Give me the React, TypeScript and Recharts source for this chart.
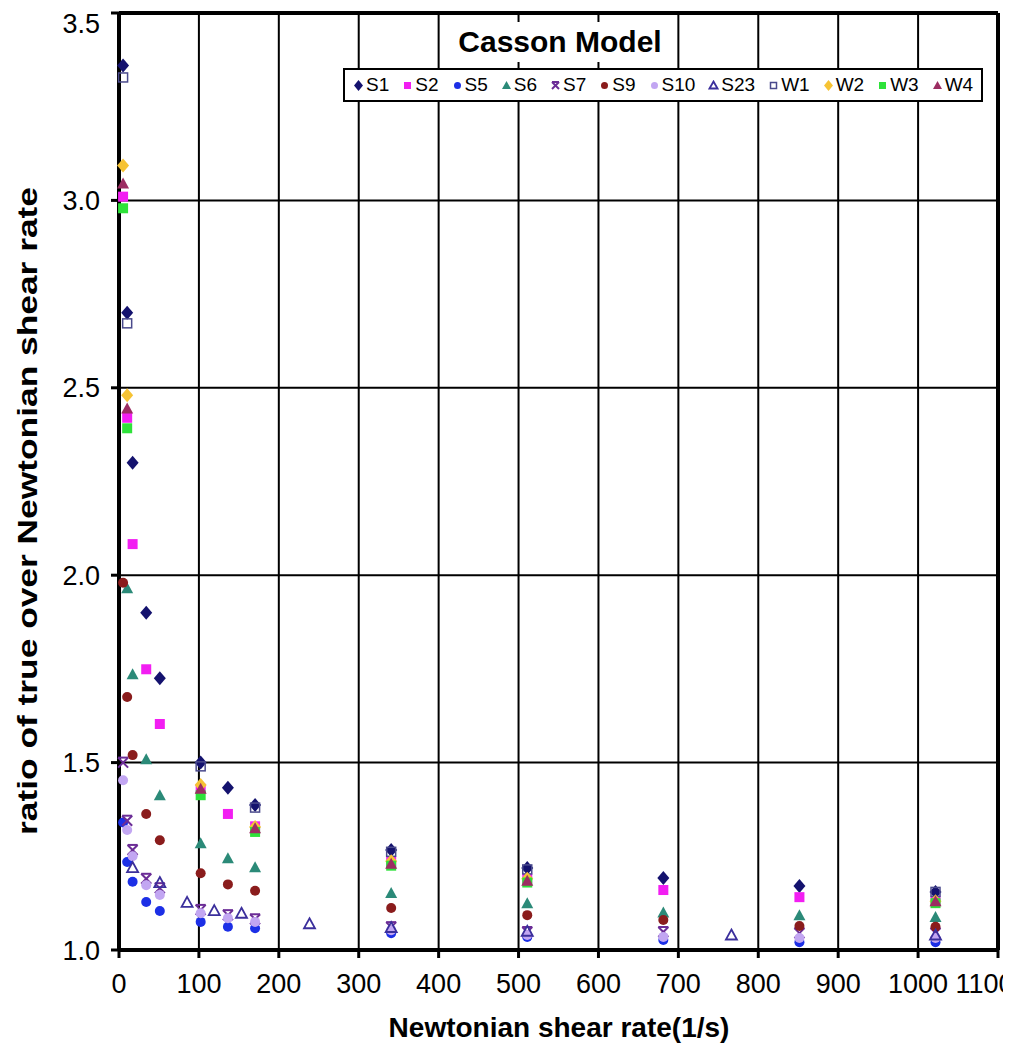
import { ScatterChart, Scatter, XAxis, YAxis, CartesianGrid, ReferenceLine, Legend, Label } from "recharts";

// shear rates (1/s) from the viscometer speeds
const sRates = [5.11, 10.22, 17.03, 34.06, 51.09, 102.2, 136.3, 170.3, 340.6, 510.9, 681.2, 851.5, 1021.8];
const s6Rates = [10.22, 17.03, 34.06, 51.09, 102.2, 136.3, 170.3, 340.6, 510.9, 681.2, 851.5, 1021.8];
const s23Rates = [17.03, 51.09, 85.2, 119.2, 153.3, 238.4, 340.6, 510.9, 766.4, 1021.8];
const wRates = [5.11, 10.22, 102.2, 170.3, 340.6, 510.9, 1021.8];

// ratio of true over Newtonian shear rate
const s1 = [3.36, 2.7, 2.3, 1.9, 1.725, 1.5, 1.433, 1.387, 1.267, 1.219, 1.192, 1.171, 1.155];
const s2 = [3.01, 2.42, 2.083, 1.749, 1.603, 1.43, 1.363, 1.33, 1.235, 1.19, 1.16, 1.141, 1.13];
const s5 = [1.34, 1.235, 1.182, 1.128, 1.104, 1.075, 1.062, 1.058, 1.045, 1.035, 1.027, 1.021, 1.021];
const s6 = [1.965, 1.736, 1.509, 1.413, 1.285, 1.245, 1.221, 1.152, 1.125, 1.1, 1.093, 1.088];
const s7 = [1.5, 1.345, 1.267, 1.19, 1.165, 1.107, 1.093, 1.082, 1.061, 1.048, 1.048, 1.045, 1.045];
const s9 = [1.98, 1.675, 1.52, 1.363, 1.293, 1.205, 1.175, 1.158, 1.112, 1.093, 1.08, 1.064, 1.062];
const s10 = [1.453, 1.32, 1.25, 1.173, 1.147, 1.098, 1.085, 1.075, 1.053, 1.04, 1.035, 1.032, 1.032];
const s23 = [1.22, 1.18, 1.127, 1.105, 1.098, 1.07, 1.06, 1.05, 1.04, 1.04];
const w1 = [3.328, 2.672, 1.49, 1.38, 1.262, 1.215, 1.155];
const w2 = [3.093, 2.48, 1.44, 1.328, 1.237, 1.19, 1.13];
const w3 = [2.979, 2.392, 1.413, 1.315, 1.225, 1.18, 1.125];
const w4 = [3.045, 2.445, 1.43, 1.325, 1.23, 1.185, 1.13];

const xTicks = [0, 100, 200, 300, 400, 500, 600, 700, 800, 900, 1000, 1100];
const yTicks = [1.0, 1.5, 2.0, 2.5, 3.0, 3.5];

type Kind = "diamond" | "square" | "circle" | "triangle" | "star" | "openTriangle" | "openSquare";

const series: { name: string; xs: number[]; ys: number[]; kind: Kind; color: string }[] = [
  { name: "S1", xs: sRates, ys: s1, kind: "diamond", color: "#14126e" },
  { name: "S2", xs: sRates, ys: s2, kind: "square", color: "#f21ef2" },
  { name: "S5", xs: sRates, ys: s5, kind: "circle", color: "#1c2fe6" },
  { name: "S6", xs: s6Rates, ys: s6, kind: "triangle", color: "#2b8a78" },
  { name: "S7", xs: sRates, ys: s7, kind: "star", color: "#6b2c96" },
  { name: "S9", xs: sRates, ys: s9, kind: "circle", color: "#8a1c1c" },
  { name: "S10", xs: sRates, ys: s10, kind: "circle", color: "#c2a6f2" },
  { name: "S23", xs: s23Rates, ys: s23, kind: "openTriangle", color: "#3b2f9c" },
  { name: "W1", xs: wRates, ys: w1, kind: "openSquare", color: "#4a4a8c" },
  { name: "W2", xs: wRates, ys: w2, kind: "diamond", color: "#f6c334" },
  { name: "W3", xs: wRates, ys: w3, kind: "square", color: "#2ee23a" },
  { name: "W4", xs: wRates, ys: w4, kind: "triangle", color: "#9c2d62" },
];

const FONT = "'Liberation Sans', Arial, sans-serif";

function Marker({ kind, cx, cy, color, r = 6 }: { kind: Kind; cx: number; cy: number; color: string; r?: number }) {
  switch (kind) {
    case "diamond":
      return <polygon points={`${cx},${cy - r - 1} ${cx + r},${cy} ${cx},${cy + r + 1} ${cx - r},${cy}`} fill={color} />;
    case "square":
      return <rect x={cx - r + 1} y={cy - r + 1} width={2 * r - 2} height={2 * r - 2} fill={color} />;
    case "circle":
      return <circle cx={cx} cy={cy} r={r - 1} fill={color} />;
    case "triangle":
      return <polygon points={`${cx},${cy - r} ${cx + r},${cy + r - 1} ${cx - r},${cy + r - 1}`} fill={color} />;
    case "openTriangle":
      return (
        <polygon
          points={`${cx},${cy - r + 0.5} ${cx + r - 0.5},${cy + r - 1.5} ${cx - r + 0.5},${cy + r - 1.5}`}
          fill="none"
          stroke={color}
          strokeWidth={1.8}
        />
      );
    case "openSquare":
      return <rect x={cx - r + 1.5} y={cy - r + 1.5} width={2 * r - 3} height={2 * r - 3} fill="none" stroke={color} strokeWidth={1.5} />;
    case "star":
      return (
        <g stroke={color} strokeWidth={2}>
          <line x1={cx - r + 1} y1={cy - r + 1} x2={cx + r - 1} y2={cy + r - 1} />
          <line x1={cx - r + 1} y1={cy + r - 1} x2={cx + r - 1} y2={cy - r + 1} />
          <line x1={cx - r + 1} y1={cy - r + 1} x2={cx + r - 1} y2={cy - r + 1} />
        </g>
      );
  }
}

function LegendBox() {
  return (
    <div style={{ fontFamily: FONT }}>
      <div
        style={{
          marginLeft: 100,
          width: 234,
          height: 40,
          background: "#fff",
          fontSize: 30,
          fontWeight: 700,
          lineHeight: "40px",
          textAlign: "center",
        }}
      >
        Casson Model
      </div>
      <div
        style={{
          marginTop: 6,
          height: 30,
          display: "inline-flex",
          alignItems: "center",
          padding: "0 8px 0 8px",
          border: "2px solid #000",
          background: "#fff",
          fontSize: 19,
        }}
      >
        {series.map((s, i) => (
          <div key={s.name} style={{ display: "flex", alignItems: "center", marginRight: i === series.length - 1 ? 0 : 13 }}>
            <svg width={11} height={11} style={{ marginRight: 2 }}>
              <Marker kind={s.kind} cx={5.5} cy={5.5} color={s.color} r={4.5} />
            </svg>
            <span>{s.name}</span>
          </div>
        ))}
      </div>
    </div>
  );
}

export default function App() {
  return (
    <div style={{ width: 1003, height: 1047, fontFamily: FONT }}>
      <ScatterChart width={1003} height={1047} margin={{ top: 5, right: 13, left: 0, bottom: 0 }}>
        <CartesianGrid stroke="#000" strokeWidth={2} />
        <XAxis
          type="number"
          dataKey="x"
          domain={[0, 1100]}
          ticks={xTicks}
          height={105}
          tickSize={8}
          tickMargin={16}
          axisLine={{ stroke: "#000", strokeWidth: 4 }}
          tickLine={{ stroke: "#000", strokeWidth: 3 }}
          tick={{ fill: "#000", fontSize: 27, fontFamily: FONT }}
        >
          <Label
            content={() => (
              <text x={551} y={1029} textAnchor="middle" fontSize={28} fontWeight={700} fontFamily={FONT} fill="#000">
                Newtonian shear rate(1/s)
              </text>
            )}
          />
        </XAxis>
        <YAxis
          type="number"
          dataKey="y"
          domain={[1, 3.5]}
          ticks={yTicks}
          width={111}
          tickSize={8}
          tickMargin={11}
          tickFormatter={(v: number) => v.toFixed(1)}
          axisLine={{ stroke: "#000", strokeWidth: 4 }}
          tickLine={{ stroke: "#000", strokeWidth: 3 }}
          tick={{ fill: "#000", fontSize: 27, fontFamily: FONT }}
        >
          <Label
            content={() => (
              <text
                transform="translate(29,503) rotate(-90)"
                textAnchor="middle"
                fontSize={28}
                fontWeight={700}
                fontFamily={FONT}
                fill="#000"
                textLength={648}
                lengthAdjust="spacingAndGlyphs"
              >
                ratio of true over Newtonian shear rate
              </text>
            )}
          />
        </YAxis>
        <ReferenceLine y={3.5} stroke="#000" strokeWidth={4} />
        <ReferenceLine x={1100} stroke="#000" strokeWidth={4} />
        <Legend
          layout="horizontal"
          verticalAlign="middle"
          align="center"
          wrapperStyle={{ top: 14, left: 335, width: 660 }}
          content={() => <LegendBox />}
        />
        {series.map((s) => (
          <Scatter
            key={s.name}
            name={s.name}
            data={s.xs.map((x, i) => ({ x, y: s.ys[i] }))}
            isAnimationActive={false}
            shape={(p: any) => <Marker kind={s.kind} cx={p.cx} cy={p.cy} color={s.color} />}
          />
        ))}
      </ScatterChart>
    </div>
  );
}
